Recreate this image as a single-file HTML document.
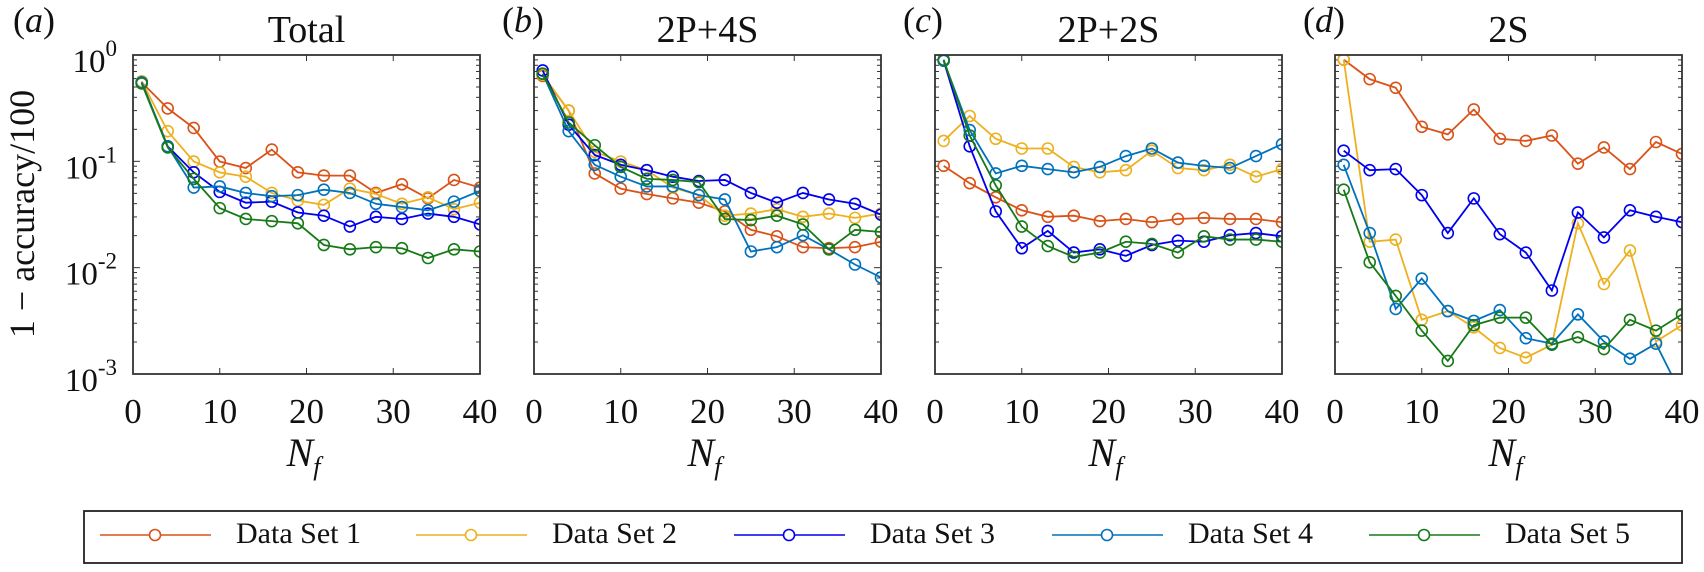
<!DOCTYPE html>
<html><head><meta charset="utf-8"><style>
body{margin:0;background:#fff}
svg text{font-family:"Liberation Serif",serif;fill:#111}
</style></head><body>
<svg id="s" width="1704" height="567" xmlns="http://www.w3.org/2000/svg"></svg>
<script>
const S=document.getElementById('s');let h='';
const K=1.084;
const lefts=[133,534,935,1335],W=347,T=55,B=374,D=(B-T)/3;
const cols=['#d95319','#edb120','#0000ee','#0072bd','#177a17'];
const titles=['Total','2P+4S','2P+2S','2S'],labs=['a','b','c','d'];
const data=[
[[76,100,118,149,155,138,159,162,162,178,170,183,166,173],[75,121,149,159,163,178,185,189,174,179,188,182,193,187],[76,135,159,177,187,186,196,199,209,200,202,197,200,207],[76,135,173,172,178,181,180,175,178,188,191,194,186,176],[77,136,165,192,202,204,206,226,230,228,229,238,230,232]],
[[70,102,160,174,179,183,187,195,212,218,228,229,228,223],[69,102,140,149,157,173,180,199,197,193,200,197,201,197],[65,115,143,152,157,163,167,166,178,187,178,184,188,198],[68,121,152,163,172,172,180,184,232,228,217,230,244,256],[68,113,134,154,165,166,168,202,203,199,207,230,212,214]],
[[153,169,182,194,200,199,204,202,205,202,201,202,202,205],[130,107,128,137,137,154,159,157,139,155,157,152,163,156],[56,135,195,229,213,233,230,236,226,222,223,217,215,218],[56,120,160,153,156,159,154,144,137,150,153,155,144,133],[55,125,171,209,227,237,233,223,225,233,218,221,221,223]],
[[55,73,81,117,124,101,128,130,125,151,136,156,131,142],[55,223,221,295,287,302,321,330,318,206,262,231,315,300],[139,157,156,180,215,183,216,233,268,196,219,194,200,205],[152,215,285,257,287,296,286,312,317,290,315,331,317,365],[175,242,273,305,333,300,293,293,318,311,322,295,305,290]]];
h+='<defs>';lefts.forEach((L,i)=>{h+=`<clipPath id="c${i}"><rect x="${L}" y="${T}" width="${W}" height="${B-T}"/></clipPath>`});h+='</defs>';
lefts.forEach((L,p)=>{
  const R=L+W;
  for(let d=0;d<3;d++)for(let k=1;k<=9;k++){const y=T+D*(d+1)-D*Math.log10(k);const len=k==1?7:4;
    h+=`<line x1="${L}" y1="${y}" x2="${L+len}" y2="${y}" stroke="#333" stroke-width="1"/><line x1="${R}" y1="${y}" x2="${R-len}" y2="${y}" stroke="#333" stroke-width="1"/>`;}
  for(let n=10;n<40;n+=10){const x=L+n/40*W;h+=`<line x1="${x}" y1="${T}" x2="${x}" y2="${T+6}" stroke="#333"/><line x1="${x}" y1="${B}" x2="${x}" y2="${B-6}" stroke="#333"/>`;}
  for(let n=0;n<=40;n+=10){const x=L+n/40*W;h+=`<text x="${x}" y="423" font-size="35" text-anchor="middle">${n}</text>`;}
  h+=`<g clip-path="url(#c${p})">`;
  data[p].forEach((ys,s)=>{const pts=ys.map((y,i)=>[L+(1+3*i)/40*W,y*K]);
    h+=`<polyline points="${pts.map(q=>q.join(',')).join(' ')}" fill="none" stroke="${cols[s]}" stroke-width="1.8"/>`;
    pts.forEach(q=>h+=`<circle cx="${q[0]}" cy="${q[1]}" r="5.5" fill="none" stroke="${cols[s]}" stroke-width="1.6"/>`);});
  h+='</g>';
  h+=`<rect x="${L}" y="${T}" width="${W}" height="${B-T}" fill="none" stroke="#333" stroke-width="1.8"/>`;
  h+=`<text x="${L+W/2}" y="42" font-size="38" text-anchor="middle">${titles[p]}</text>`;
  h+=`<text x="${p==0?L-120:L-32}" y="32" font-size="36">(<tspan font-style="italic">${labs[p]}</tspan>)</text>`;
  h+=`<text x="${L+W/2-20}" y="466" font-size="40" font-style="italic">N<tspan font-size="26" dy="9">f</tspan></text>`;
});
for(let d=0;d<=3;d++){const y=T+D*d+17;h+=`<text x="117" y="${y}" font-size="33" text-anchor="end">10<tspan font-size="23" dy="-16">${d?'-'+d:'0'}</tspan></text>`;}
h+=`<text transform="translate(34,214) rotate(-90)" font-size="36" text-anchor="middle">1 − accuracy/100</text>`;
h+=`<rect x="84" y="511" width="1598" height="52" fill="none" stroke="#222" stroke-width="1.8"/>`;
[100,416,734,1052,1369].forEach((x,i)=>{h+=`<line x1="${x}" y1="535" x2="${x+111}" y2="535" stroke="${cols[i]}" stroke-width="1.6"/><circle cx="${x+55}" cy="535" r="5.5" fill="#fff" stroke="${cols[i]}" stroke-width="1.6"/><text x="${x+136}" y="543" font-size="30">Data Set ${i+1}</text>`});
S.innerHTML=h;
</script>
</body></html>
